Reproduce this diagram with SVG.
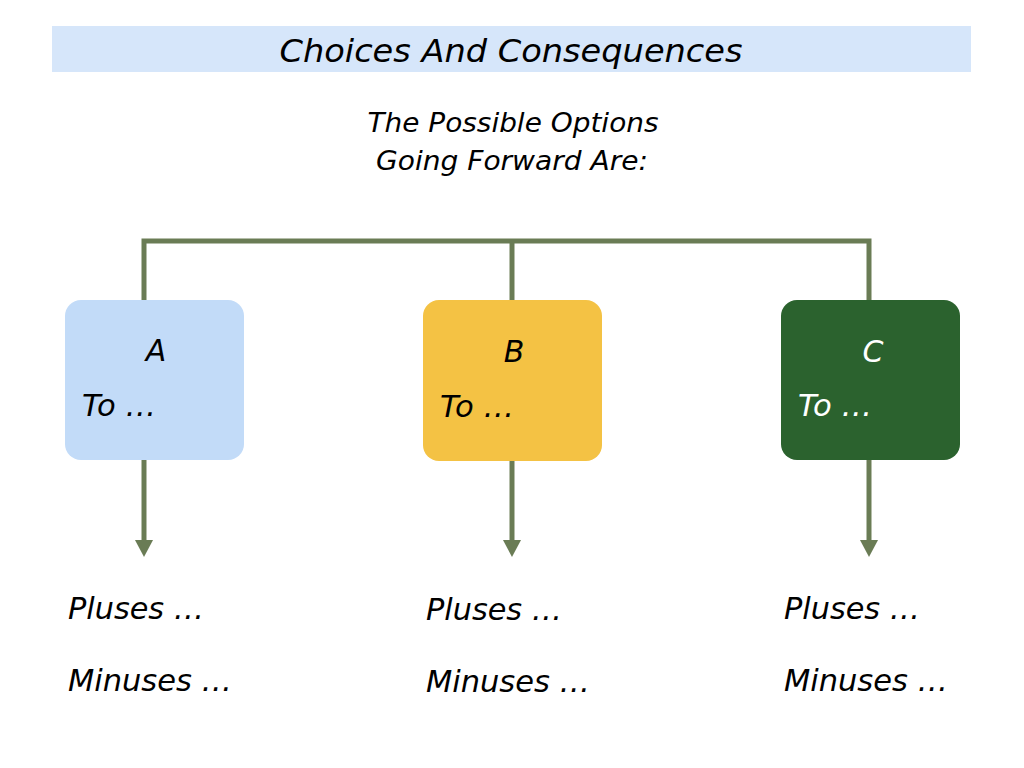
<svg xmlns="http://www.w3.org/2000/svg" width="1024" height="768" viewBox="0 0 1024 768">
<defs>
<style>
.t{font-family:"DejaVu Sans","Verdana",sans-serif;font-style:italic;fill:#000}
.ln{stroke:#6a7c55;stroke-width:5;fill:none}
.ah{fill:#6a7c55}
.w{fill:#fff}
</style>
</defs>
<rect width="1024" height="768" fill="#fff"/>
<g id="title">
<rect x="52" y="26" width="919" height="46" fill="#d6e6fa"/>
<text class="t" x="511" y="62" font-size="32" text-anchor="middle" textLength="463" lengthAdjust="spacingAndGlyphs">Choices And Consequences</text>
</g>
<g id="subtitle">
<text class="t" x="513" y="132" font-size="26" text-anchor="middle" textLength="291" lengthAdjust="spacingAndGlyphs">The Possible Options</text>
<text class="t" x="512" y="170" font-size="26" text-anchor="middle" textLength="272" lengthAdjust="spacingAndGlyphs">Going Forward Are:</text>
</g>
<g id="connectors">
<path class="ln" d="M144,300 V241 H869 V300"/>
<path class="ln" d="M512,241 V300"/>
<path class="ln" d="M144,460 V541"/>
<path class="ah" d="M135,540 L153,540 L144,557 Z"/>
<path class="ln" d="M512,460 V541"/>
<path class="ah" d="M503,540 L521,540 L512,557 Z"/>
<path class="ln" d="M869,460 V541"/>
<path class="ah" d="M860,540 L878,540 L869,557 Z"/>
</g>
<g id="nodeA">
<rect x="65" y="300" width="179" height="160" rx="16" fill="#c2dbf8"/>
<text class="t" x="156" y="361" font-size="30" text-anchor="middle">A</text>
<text class="t" x="82" y="416" font-size="30" textLength="74" lengthAdjust="spacingAndGlyphs">To …</text>
</g>
<g id="nodeB">
<rect x="423" y="300" width="179" height="161" rx="16" fill="#f4c244"/>
<text class="t" x="514" y="362" font-size="30" text-anchor="middle">B</text>
<text class="t" x="440" y="417" font-size="30" textLength="74" lengthAdjust="spacingAndGlyphs">To …</text>
</g>
<g id="nodeC">
<rect x="781" y="300" width="179" height="160" rx="16" fill="#2b622e"/>
<text class="t w" x="873" y="362" font-size="30" text-anchor="middle">C</text>
<text class="t w" x="798" y="416" font-size="30" textLength="74" lengthAdjust="spacingAndGlyphs">To …</text>
</g>
<g id="outA">
<text class="t" x="68" y="619" font-size="30" textLength="136" lengthAdjust="spacingAndGlyphs">Pluses …</text>
<text class="t" x="68" y="691" font-size="30" textLength="164" lengthAdjust="spacingAndGlyphs">Minuses …</text>
</g>
<g id="outB">
<text class="t" x="426" y="620" font-size="30" textLength="136" lengthAdjust="spacingAndGlyphs">Pluses …</text>
<text class="t" x="426" y="692" font-size="30" textLength="164" lengthAdjust="spacingAndGlyphs">Minuses …</text>
</g>
<g id="outC">
<text class="t" x="784" y="619" font-size="30" textLength="136" lengthAdjust="spacingAndGlyphs">Pluses …</text>
<text class="t" x="784" y="691" font-size="30" textLength="164" lengthAdjust="spacingAndGlyphs">Minuses …</text>
</g>
</svg>
